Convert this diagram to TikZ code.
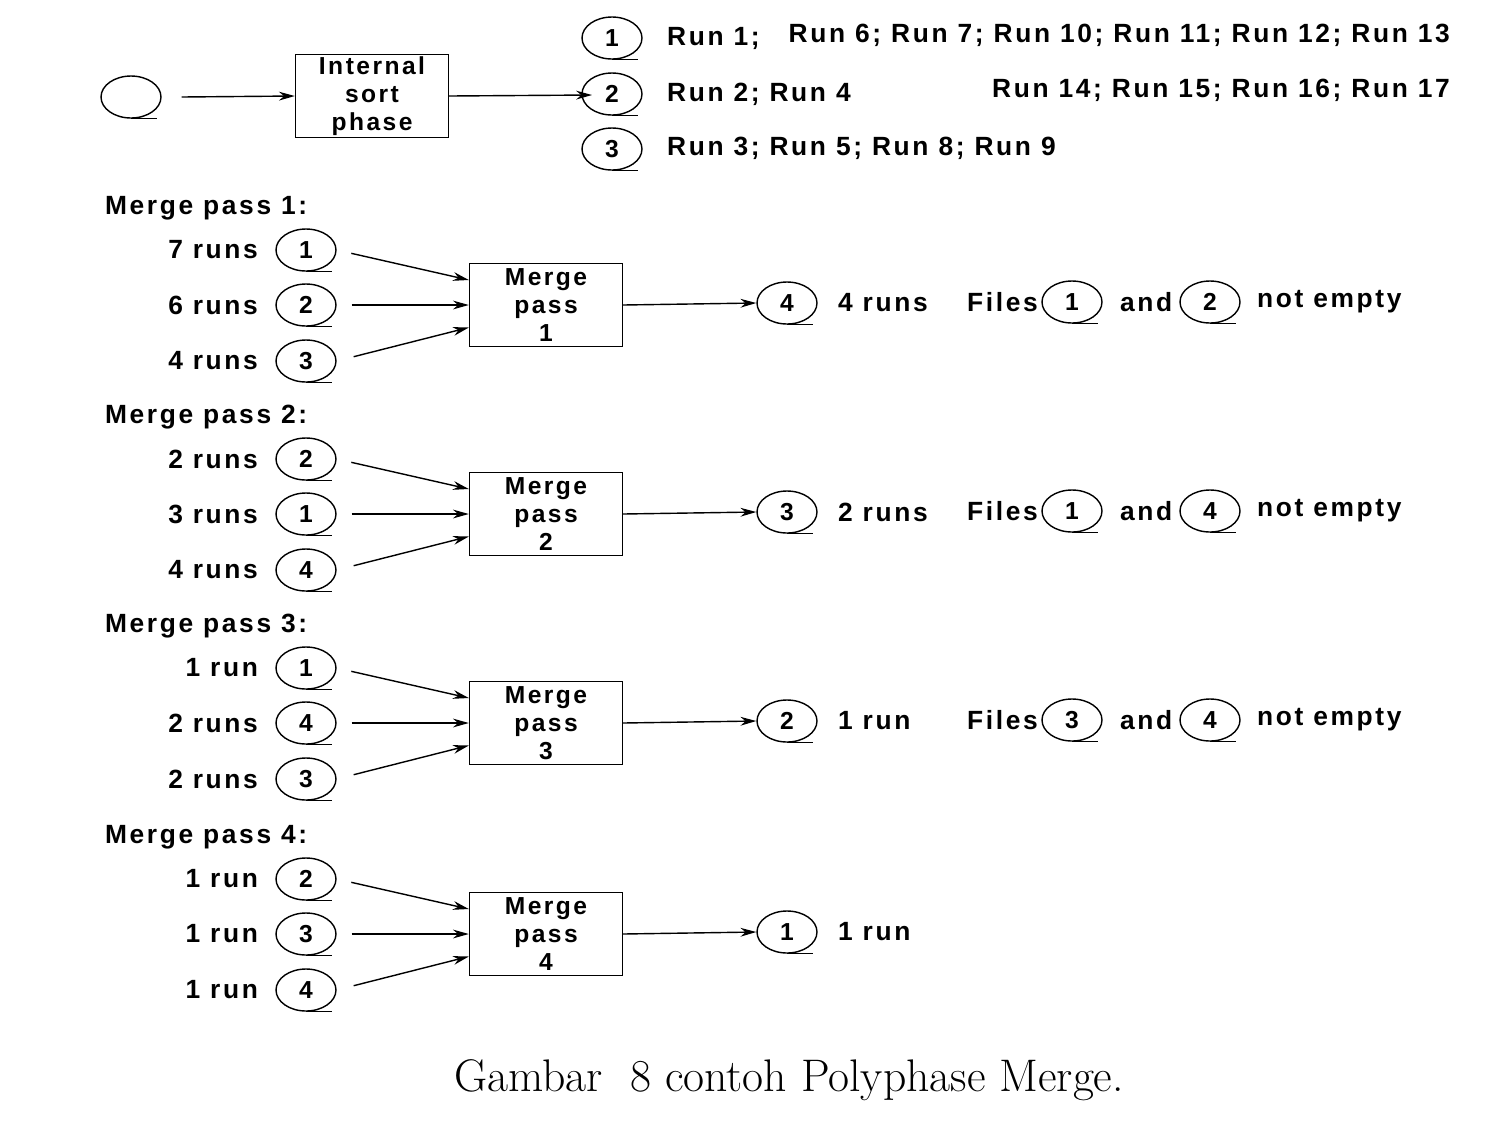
\documentclass[tikz,border=0pt]{standalone}
\usepackage{fontspec}
\setmainfont{Liberation Sans}[LetterSpace=10]
\usetikzlibrary{shapes.geometric, arrows.meta}
\tikzset{
  tape/.style={ellipse, draw, thick, minimum width=1.2cm, minimum height=0.84cm, inner sep=0pt, font=\bfseries\fontsize{14}{13}\selectfont},
  box/.style={rectangle, draw, thick, minimum width=3.06cm, minimum height=1.66cm, align=center, font=\bfseries\fontsize{14}{16}\selectfont, inner sep=1pt},
  txt/.style={font=\bfseries\fontsize{15}{17}\selectfont, inner sep=1pt},
  arr/.style={thick, -{Stealth[length=9pt, width=5pt]}}
}
\newcommand{\tape}[3]{%
  \node[tape] (#1) at (#2) {#3};
  \draw[thick] (#1.south) -- ++(26,0);
}
\begin{document}
\begin{tikzpicture}[x=0.02cm, y=-0.02cm]
\useasboundingbox (0,0) rectangle (1502,1127);

% internal sort phase
\tape{src}{131,97}{}
\node[box] (sort) at (372,96) {Internal\\sort\\phase};
\draw[arr] ([xshift=0.4cm]src.east) coordinate (srcout) -- (sort.west);
\draw[arr] (sort.east) -- ([xshift=-0.4cm]612,95) coordinate (ta) ;
\tape{f1}{612,38}{1}
\tape{f2}{612,94}{2}
\tape{f3}{612,149}{3}
\node[txt, anchor=west] (r1) at (665,38) {Run 1;};
\node[txt, anchor=east] (r1b) at (1452,35) {Run 6; Run 7; Run 10; Run 11; Run 12; Run 13};
\node[txt, anchor=west] (r2) at (665,94) {Run 2; Run 4};
\node[txt, anchor=east] (r2b) at (1452,90) {Run 14; Run 15; Run 16; Run 17};
\node[txt, anchor=west] (r3) at (665,148) {Run 3; Run 5; Run 8; Run 9};

% merge passes
\foreach \p/\y/\la/\lb/\lc/\ta/\tb/\tc/\to/\lo in {
  1/0/7 runs/6 runs/4 runs/1/2/3/4/4 runs,
  2/209/2 runs/3 runs/4 runs/2/1/4/3/2 runs,
  3/418/1 run/2 runs/2 runs/1/4/3/2/1 run,
  4/629/1 run/1 run/1 run/2/3/4/1/1 run}{
  \node[txt, anchor=west] (h\p) at (103,208+\y) {Merge pass \p:};
  \node[txt, anchor=east] (la\p) at (260,250+\y) {\la};
  \node[txt, anchor=east] (lb\p) at (260,305+\y) {\lb};
  \node[txt, anchor=east] (lc\p) at (260,361+\y) {\lc};
  \tape{ia\p}{306,250+\y}{\ta}
  \tape{ib\p}{306,305+\y}{\tb}
  \tape{ic\p}{306,361+\y}{\tc}
  \node[box] (m\p) at (546,305+\y) {Merge\\pass\\\p};
  \draw[arr, shorten <=0.3cm] (ia\p.east) -- ([yshift=0.5cm]m\p.west);
  \draw[arr, shorten <=0.3cm] (ib\p.east) -- (m\p.west);
  \draw[arr, shorten <=0.35cm] (ic\p.east) -- ([yshift=-0.45cm]m\p.west);
  \tape{o\p}{787,303+\y}{\to}
  \draw[arr] (m\p.east) -- (o\p.west);
  \node[txt, anchor=west] (lo\p) at (836,303+\y) {\lo};
}

% files not empty
\foreach \p/\y/\fa/\fb in {1/0/1/2, 2/209/1/4, 3/418/3/4}{
  \node[txt, anchor=west] (fl\p) at (965,302+\y) {Files};
  \tape{fa\p}{1072,302+\y}{\fa}
  \node[txt, anchor=west] (and\p) at (1118,302+\y) {and};
  \tape{fb\p}{1210,302+\y}{\fb}
  \node[txt, anchor=west] (ne\p) at (1255,302+\y) {not empty};
}

\node[font=\fontfamily{lmr}\fontsize{26}{30}\selectfont] (cap) at (789,1080) {Gambar\ \ 8 contoh Polyphase Merge.};
\end{tikzpicture}
\end{document}
